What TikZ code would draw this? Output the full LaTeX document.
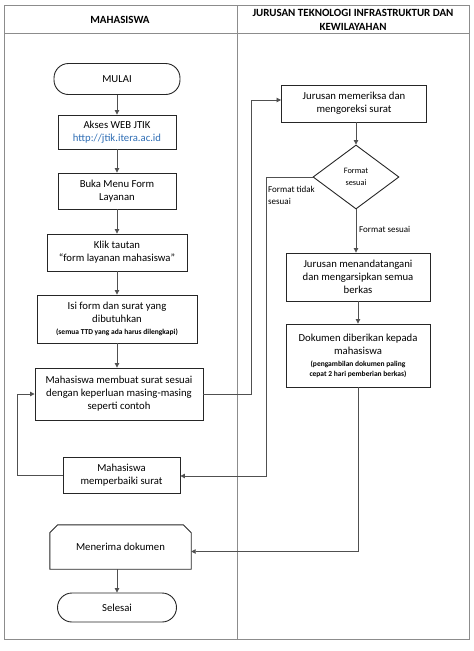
\documentclass[tikz,border=0pt]{standalone}
\usepackage{fontspec}
\setmainfont{Carlito}
\usetikzlibrary{arrows.meta,shapes.geometric,calc}
\definecolor{urlblue}{HTML}{2E6DB4}
\definecolor{framegray}{HTML}{8C8C8C}
\definecolor{linegray}{HTML}{505050}
\begin{document}
\begin{tikzpicture}[x=1pt,y=-1pt,
  box/.style={draw=black!85, line width=0.9pt, align=center, inner sep=1pt,
    font=\fontsize{10.7}{13}\selectfont},
  term/.style={box, rounded corners=14.5pt},
  conn/.style={draw=linegray, line width=0.8pt, -{Triangle[length=4.5pt,width=4.5pt]}},
  lbl/.style={font=\fontsize{9}{12}\selectfont, align=left, inner sep=0pt},
  head/.style={font=\bfseries\fontsize{11}{14}\selectfont, align=center, inner sep=0pt},
]
\useasboundingbox (0,0) rectangle (474,651);
% frame
\draw[framegray, line width=0.9pt] (4,5) rectangle (469,639);
\draw[framegray, line width=0.9pt] (4,33) -- (469,33);
\draw[framegray, line width=0.9pt] (237,5) -- (237,639);
\node[head] (h1) at (120,20) {MAHASISWA};
\node[head] (h2) at (353,19.5) {JURUSAN TEKNOLOGI INFRASTRUKTUR DAN\\KEWILAYAHAN};

% left column
\node[term, minimum width=126pt, minimum height=31pt] (mulai) at (117,79) {MULAI};
\node[box, minimum width=118pt, minimum height=34pt] (akses) at (117,132)
  {Akses WEB JTIK\\\textcolor{urlblue}{http://jtik.itera.ac.id}};
\node[box, minimum width=118pt, minimum height=36pt] (buka) at (117,191)
  {Buka Menu Form\\Layanan};
\node[box, minimum width=140pt, minimum height=37pt] (klik) at (117,252.5)
  {Klik tautan\\“form layanan mahasiswa”};
\node[box, minimum width=160pt, minimum height=48pt] (isi) at (117,319)
  {Isi form dan surat yang\\dibutuhkan\\[-1pt]{\bfseries\fontsize{7.5}{10}\selectfont (semua TTD yang ada harus dilengkapi)}};
\node[box, minimum width=168pt, minimum height=52pt] (buat) at (119,394)
  {Mahasiswa membuat surat sesuai\\dengan keperluan masing-masing\\seperti contoh};
\node[box, minimum width=117pt, minimum height=36pt] (baiki) at (121.5,475)
  {Mahasiswa\\memperbaiki surat};
\node[align=center, inner sep=0pt, minimum width=141pt, minimum height=44pt,
  font=\fontsize{10.7}{13}\selectfont] (terima) at (120.5,547) {Menerima dokumen};
\draw[black!85, line width=0.9pt]
  ($(terima.north west)+(0,8)$) -- ($(terima.north west)+(8,0)$) --
  ($(terima.north east)+(-8,0)$) -- ($(terima.north east)+(0,8)$) --
  (terima.south east) -- (terima.south west) -- cycle;
\node[term, minimum width=119pt, minimum height=29pt] (selesai) at (117,607.5) {Selesai};

% right column
\node[box, minimum width=145pt, minimum height=37pt] (periksa) at (354,103.5)
  {Jurusan memeriksa dan\\mengoreksi surat};
\node[draw=black!85, line width=0.9pt, diamond, minimum width=86pt, minimum height=64pt,
  inner sep=0pt, align=center, font=\fontsize{8.3}{12}\selectfont] (cek) at (356,177)
  {Format\\sesuai};
\node[box, minimum width=144pt, minimum height=48pt] (ttd) at (358,277)
  {Jurusan menandatangani\\dan mengarsipkan semua\\berkas};
\node[box, minimum width=144pt, minimum height=63pt] (dok) at (358,355.5)
  {Dokumen diberikan kepada\\mahasiswa\\[-1pt]{\bfseries\fontsize{7.5}{10}\selectfont (pengambilan dokumen paling}\\[-3pt]{\bfseries\fontsize{7.5}{10}\selectfont cepat 2 hari pemberian berkas)}};

% labels
\node[lbl, anchor=north west] (ltidak) at (268,186) {Format tidak\\sesuai};
\node[lbl, anchor=west] (lsesuai) at (359,229) {Format sesuai};

% coordinates
\coordinate (cA) at (251,100);
\coordinate (cB) at (266,476);
\coordinate (cC) at (17,394);
\coordinate (cD) at (358,551.5);

% connectors
\draw[conn] (mulai.south -| akses) -- (akses);
\draw[conn] (akses) -- (buka);
\draw[conn] (buka) -- (klik);
\draw[conn] (klik) -- (isi);
\draw[conn] (isi.south) -- (isi.south |- buat.north);
\draw[conn] (terima.south -| selesai) -- (selesai);
\draw[conn] (buat.east) -| (cA) -- (periksa.west |- cA);
\draw[conn] (periksa.south -| cek) -- (cek);
\draw[conn] (cek.south) -- (cek.south |- ttd.north);
\draw[conn] (ttd) -- (dok);
\draw[conn] (cek.west) -| (cB) -- (baiki.east |- cB);
\draw[conn] (baiki.west) -| (cC) -- (buat.west);
\draw[conn] (dok.south) -- (cD) -- (terima.east |- cD);
\end{tikzpicture}
\end{document}
